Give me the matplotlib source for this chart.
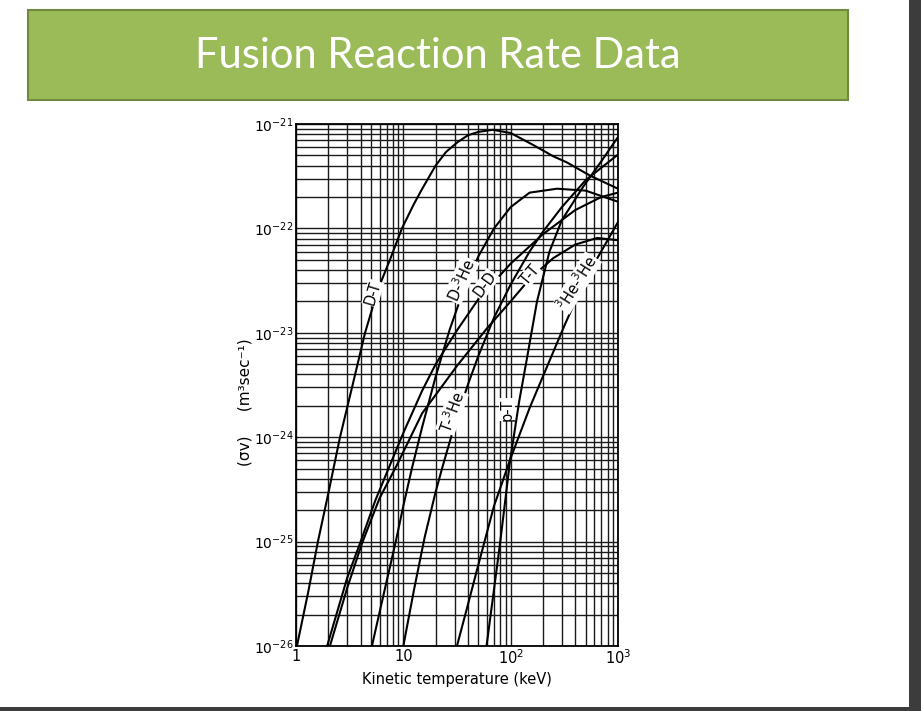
import numpy as np
import matplotlib.pyplot as plt
from matplotlib.patches import Rectangle

# Curve data: kinetic temperature (keV) and <sigma v> (m^3/s)
dt_T = [1.02, 1.3, 1.6, 2, 2.57, 3.3, 4.4, 5.8, 7.5, 9.7, 12.5, 15, 20, 25, 32, 40, 50, 68,
        100, 162, 250, 332, 550, 1000]
dt_sv = [1e-26, 3.3e-26, 1e-25, 2.9e-25, 1e-24, 2.9e-24, 1e-23, 2.6e-23, 5e-23, 1e-22, 1.7e-22,
         2.4e-22, 4.0e-22, 5.4e-22, 6.7e-22, 7.8e-22, 8.4e-22, 8.8e-22,
         8.2e-22, 6.3e-22, 4.9e-22, 4.3e-22, 3.2e-22, 2.4e-22]

dd_T = [1.95, 3, 4, 5.5, 7.5, 10, 15, 20, 31.5, 50, 100, 200, 400, 700, 1000]
dd_sv = [1e-26, 4.5e-26, 1e-25, 2.5e-25, 5.4e-25, 1.1e-24, 2.8e-24, 5e-24, 1.05e-23, 2.1e-23,
         4.6e-23, 8.8e-23, 1.5e-22, 2e-22, 2.2e-22]

tt_T = [2.07, 3, 4.1, 6, 8.7, 15, 31.5, 60, 100, 151, 250, 400, 640, 1000]
tt_sv = [1e-26, 3.6e-26, 9.5e-26, 2.6e-25, 5.4e-25, 1.7e-24, 4.8e-24, 1.1e-23, 2.0e-23, 3.3e-23,
         5.2e-23, 7.0e-23, 8.1e-23, 7.7e-23]

dhe3_T = [5.1, 6, 7, 8.5, 10, 12, 15, 20, 27, 34, 50, 70, 100, 150, 270, 500, 1000]
dhe3_sv = [1e-26, 2.1e-26, 4.2e-26, 1e-25, 2.2e-25, 5e-25, 1.26e-24, 3.8e-24, 1.07e-23, 2.1e-23,
           5.4e-23, 1e-22, 1.6e-22, 2.2e-22, 2.4e-22, 2.3e-22, 1.8e-22]

the3_T = [10, 12.6, 15.8, 20, 23.4, 30, 40, 50, 70, 100, 150, 200, 300, 500, 1000]
the3_sv = [1e-26, 3.5e-26, 1.1e-25, 3e-25, 5.4e-25, 1.3e-24, 3.2e-24, 6e-24, 1.4e-23, 2.9e-23,
           6e-23, 9.3e-23, 1.6e-22, 2.9e-22, 5.1e-22]

pt_T = [59.6, 70, 80, 98.6, 120, 141, 176, 230, 300, 473, 700, 1000]
pt_sv = [1e-26, 3.5e-26, 1e-25, 5.9e-25, 2.2e-24, 5.5e-24, 2e-23, 6e-23, 1.2e-22, 2.5e-22,
         4.4e-22, 7.5e-22]

he3he3_T = [31.6, 40, 50, 70, 100, 150, 232, 320, 425, 600, 1000]
he3he3_sv = [1e-26, 2.5e-26, 6e-26, 2.2e-25, 6.3e-25, 1.9e-24, 5.5e-24, 1.2e-23, 2.3e-23,
             4.6e-23, 1.15e-22]

curves = [
    (dt_T, dt_sv), (dd_T, dd_sv), (tt_T, tt_sv), (dhe3_T, dhe3_sv),
    (the3_T, the3_sv), (pt_T, pt_sv), (he3he3_T, he3he3_sv),
]

# label text, position (T, sv), rotation
labels = [
    ("D-T", 5.2, 2.4e-23, 73),
    ("D-$^3$He", 34.5, 3.2e-23, 66),
    ("D-D", 57.6, 2.9e-23, 54),
    ("T-T", 151, 3.6e-23, 50),
    ("T-$^3$He", 28.4, 1.75e-24, 70),
    ("p-T", 92.6, 1.84e-24, 90),
    ("$^3$He-$^3$He", 417, 3.0e-23, 58),
]

fig = plt.figure(figsize=(9.21, 7.11), dpi=100)

# slide title box
fig.patches.append(Rectangle((0.0304, 0.8594), 0.8903, 0.1266, transform=fig.transFigure,
                             facecolor='#9bbb59', edgecolor='#71893f', linewidth=1.5))
fig.text(0.475, 0.921, "Fusion Reaction Rate Data", color='white', fontsize=30,
         family='Lato', ha='center', va='center')

# dark slide edges
fig.patches.append(Rectangle((0.987, 0), 0.013, 1, transform=fig.transFigure,
                             facecolor='#3c3c3c', edgecolor='none'))
fig.patches.append(Rectangle((0, 0), 1, 0.005, transform=fig.transFigure,
                             facecolor='#3c3c3c', edgecolor='none'))

ax = fig.add_axes([0.3214, 0.0914, 0.3496, 0.7342])
ax.set_xscale('log')
ax.set_yscale('log')
ax.set_xlim(1, 1000)
ax.set_ylim(1e-26, 1e-21)

ax.grid(True, which='both', color='#1a1a1a', linewidth=1.0)
ax.set_axisbelow(True)
ax.tick_params(which='both', length=0, pad=2)
for s in ax.spines.values():
    s.set_linewidth(1.3)

ax.set_xticks([1, 10, 100, 1000])
ax.set_xticklabels(["1", "10", "$10^2$", "$10^3$"], fontsize=10.5)
ax.set_yticks([1e-26, 1e-25, 1e-24, 1e-23, 1e-22, 1e-21])
ax.set_yticklabels(["$10^{-26}$", "$10^{-25}$", "$10^{-24}$", "$10^{-23}$", "$10^{-22}$", "$10^{-21}$"],
                   fontsize=10)
ax.minorticks_on()
ax.tick_params(which='minor', labelleft=False, labelbottom=False)

for T, sv in curves:
    ax.plot(T, sv, color='black', linewidth=1.5)

for txt, x, y, rot in labels:
    ax.text(x, y, txt, rotation=rot, ha='center', va='center', fontsize=10.5,
            bbox=dict(facecolor='white', edgecolor='none', pad=0.5))

ax.set_xlabel("Kinetic temperature (keV)", fontsize=10.5, labelpad=3)
fig.text(0.266, 0.435, "(σv)     (m³sec⁻¹)", rotation=90, fontsize=11, ha='center', va='center')

fig.savefig("out.png", dpi=100)
